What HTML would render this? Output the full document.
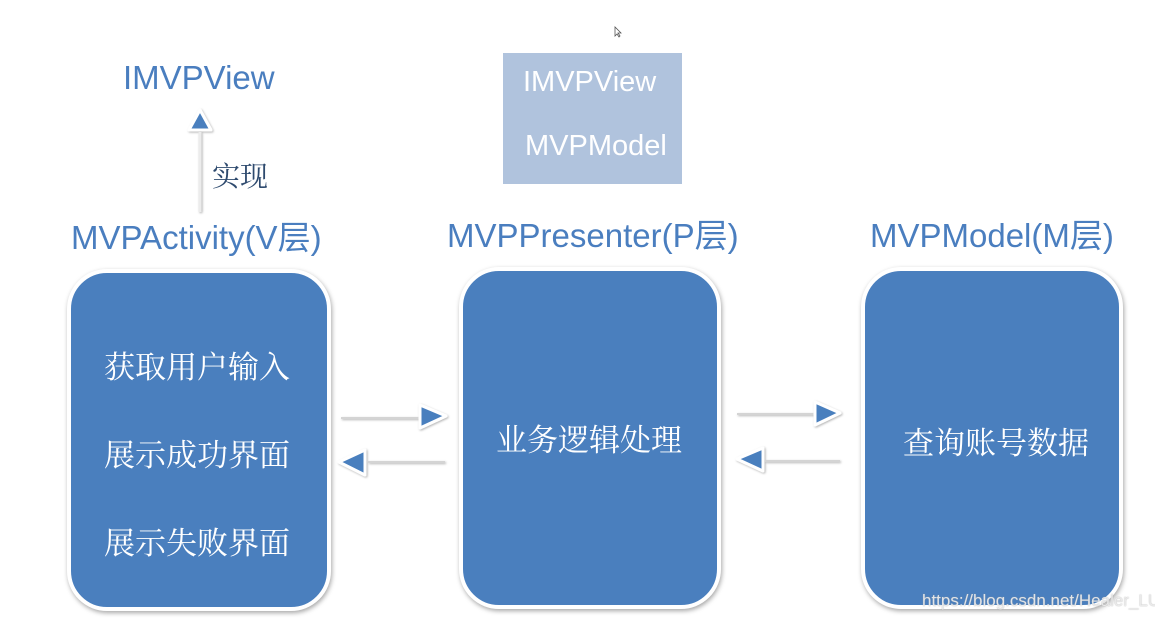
<!DOCTYPE html>
<html><head><meta charset="utf-8"><style>
body{margin:0;width:1155px;height:621px;background:#fff;overflow:hidden;position:relative;font-family:"Liberation Sans","Noto Sans CJK SC",sans-serif}
.t{position:absolute;color:#4a7ebf;font-size:33px;white-space:nowrap}
.box{position:absolute;background:#4a7fbe;border:4px solid #fff;border-radius:40px;box-shadow:1px 2px 5px rgba(0,0,0,.35)}
.w{position:absolute;color:#fff;font-size:31px;font-family:"Noto Serif CJK SC","Noto Sans CJK SC",serif;white-space:nowrap}
</style></head><body>
<div class="t" style="left:123px;top:59px">IMVPView</div>
<div class="t" style="left:71px;top:211px">MVPActivity(V层)</div>
<div class="t" style="left:447px;top:209px">MVPPresenter(P层)</div>
<div class="t" style="left:870px;top:209px">MVPModel(M层)</div>
<div style="position:absolute;left:503px;top:53px;width:179px;height:131px;background:#b0c3dd"></div>
<div class="w" style="left:523px;top:66px;font-family:'Liberation Sans',sans-serif;font-size:29px">IMVPView</div>
<div class="w" style="left:525px;top:130px;font-family:'Liberation Sans',sans-serif;font-size:29px">MVPModel</div>
<div style="position:absolute;left:212px;top:155px;font-size:28px;color:#2e4a6e;font-family:'Noto Serif CJK SC',serif">实现</div>
<div class="box" style="left:67px;top:269px;width:256px;height:334px"></div>
<div class="box" style="left:459px;top:267px;width:254px;height:334px"></div>
<div class="box" style="left:861px;top:267px;width:254px;height:334px"></div>
<div class="w" style="left:104px;top:342px">获取用户输入</div>
<div class="w" style="left:104px;top:430px">展示成功界面</div>
<div class="w" style="left:104px;top:518px">展示失败界面</div>
<div class="w" style="left:496px;top:415px">业务逻辑处理</div>
<div class="w" style="left:903px;top:418px">查询账号数据</div>
<svg width="1155" height="621" style="position:absolute;left:0;top:0">
<defs><filter id="s"><feDropShadow dx="1" dy="1" stdDeviation="1" flood-opacity=".3"/></filter></defs>
<g filter="url(#s)" stroke-linejoin="round">
<line x1="200" y1="212" x2="200" y2="132" stroke="#ececec" stroke-width="3"/>
<polygon points="200,110 189,130 211,130" fill="#4a7fbe" stroke="#fff" stroke-width="3"/>
<line x1="341" y1="418" x2="420" y2="418" stroke="#d4d4d4" stroke-width="2"/>
<polygon points="446,416 420,405 420,428" fill="#4a7fbe" stroke="#fff" stroke-width="3"/>
<line x1="368" y1="462" x2="445" y2="462" stroke="#d4d4d4" stroke-width="2"/>
<polygon points="339,462 365,450 365,475" fill="#4a7fbe" stroke="#fff" stroke-width="3"/>
<line x1="737" y1="414" x2="815" y2="414" stroke="#d4d4d4" stroke-width="2"/>
<polygon points="840,413 815,402 815,425" fill="#4a7fbe" stroke="#fff" stroke-width="3"/>
<line x1="765" y1="461" x2="840" y2="461" stroke="#d4d4d4" stroke-width="2"/>
<polygon points="737,459 763,448 763,471" fill="#4a7fbe" stroke="#fff" stroke-width="3"/>
</g>
<path d="M615 27 l0 9 l2 -2 l2 3 l1 -1 l-2 -3 l3 0 z" fill="#fff" stroke="#555" stroke-width=".8"/>
</svg>
<div style="position:absolute;left:922px;top:591px;font-size:17px;color:rgba(255,255,255,.75);text-shadow:0 0 1px #999">https://blog.csdn.net/Healer_LU</div>
</body></html>
